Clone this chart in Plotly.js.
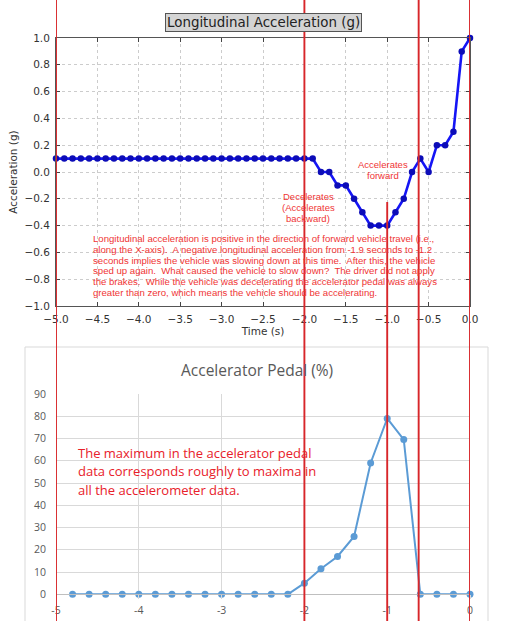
<!DOCTYPE html>
<html>
<head>
<meta charset="utf-8">
<script src="https://cdn.plot.ly/plotly-3.0.1.min.js"></script>
<style>html,body{margin:0;padding:0;background:#fff;}#chart{width:510px;height:621px;}</style>
</head>
<body>
<div id="chart"></div>
<script>
// ---- Data ----
const accelTime = [-5.0,-4.9,-4.8,-4.7,-4.6,-4.5,-4.4,-4.3,-4.2,-4.1,-4.0,-3.9,-3.8,-3.7,-3.6,-3.5,-3.4,-3.3,-3.2,-3.1,-3.0,-2.9,-2.8,-2.7,-2.6,-2.5,-2.4,-2.3,-2.2,-2.1,-2.0,-1.9,-1.8,-1.7,-1.6,-1.5,-1.4,-1.3,-1.2,-1.1,-1.0,-0.9,-0.8,-0.7,-0.6,-0.5,-0.4,-0.3,-0.2,-0.1,0.0];
const accelG = [0.1,0.1,0.1,0.1,0.1,0.1,0.1,0.1,0.1,0.1,0.1,0.1,0.1,0.1,0.1,0.1,0.1,0.1,0.1,0.1,0.1,0.1,0.1,0.1,0.1,0.1,0.1,0.1,0.1,0.1,0.1,0.1,0.0,0.0,-0.1,-0.1,-0.2,-0.3,-0.4,-0.4,-0.4,-0.3,-0.2,0.0,0.1,0.0,0.2,0.2,0.3,0.9,1.0];

const pedalTime = [-4.8,-4.6,-4.4,-4.2,-4.0,-3.8,-3.6,-3.4,-3.2,-3.0,-2.8,-2.6,-2.4,-2.2,-2.0,-1.8,-1.6,-1.4,-1.2,-1.0,-0.8,-0.6,-0.4,-0.2,0.0];
const pedalPct = [0,0,0,0,0,0,0,0,0,0,0,0,0,0,5,11.5,17,26,59,79,69.5,0,0,0,0];

const pedalTickVals = [-5,-4,-3,-2,-1,0];
const pedalTickText = ['-5','-4','-3','-2','-1','0'];

const markerTimesFull = [-5.0,-2.0,-0.62,0.0];   // red lines spanning whole picture
const markerTimesPartial = [-1.0];               // red line starting inside the top chart

const topTitle = 'Longitudinal Acceleration (g)';
const bottomTitle = 'Accelerator Pedal (%)';
const accelForwardLines = ['Accelerates', 'forward'];
const decelLines = ['Decelerates', '(Accelerates', 'backward)'];
const paragraphLines = [
  'Longitudinal acceleration is positive in the direction of forward vehicle travel (i.e.,',
  'along the X-axis).  A negative longitudinal acceleration from -1.9 seconds to -1.2',
  'seconds implies the vehicle was slowing down at this time.  After this, the vehicle',
  'sped up again.  What caused the vehicle to slow down?  The driver did not apply',
  'the brakes.  While the vehicle was decelerating the accelerator pedal was always',
  'greater than zero, which means the vehicle should be accelerating.'
];
const pedalNoteLines = [
  'The maximum in the accelerator pedal',
  'data corresponds roughly to maxima in',
  'all the accelerometer data.'
];

// ---- helpers: pixel -> paper ----
const W = 510, H = 621;
const px = v => v / W;
const py = v => 1 - v / H;

const redColor = '#d8262a';
const annRed = '#ef3535';

const traces = [
  {
    x: accelTime, y: accelG, xaxis: 'x', yaxis: 'y', type: 'scatter', mode: 'lines+markers',
    line: {color: '#1515f5', width: 2.6},
    marker: {color: '#0c0cb8', size: 6.5, line: {width: 0}},
    cliponaxis: false, hoverinfo: 'x+y'
  },
  {
    x: pedalTime, y: pedalPct, xaxis: 'x2', yaxis: 'y2', type: 'scatter', mode: 'lines+markers',
    line: {color: '#5b9bd5', width: 2},
    marker: {color: '#5b9bd5', size: 7},
    cliponaxis: false, hoverinfo: 'x+y'
  }
];

const dv = {family: 'DejaVu Sans', size: 10.5, color: '#333'};
const xl = {family: 'Open Sans', size: 10.5, color: '#595959'};

const shapes = [];
markerTimesFull.forEach(t => shapes.push({
  type: 'line', xref: 'x', yref: 'paper', x0: t, x1: t, y0: 0, y1: 1,
  line: {color: redColor, width: 1.9}, layer: 'above'
}));
markerTimesPartial.forEach(t => shapes.push({
  type: 'line', xref: 'x', yref: 'paper', x0: t, x1: t, y0: 0, y1: py(202),
  line: {color: redColor, width: 1.9}, layer: 'above'
}));
// Excel chart frame
shapes.push({type: 'rect', xref: 'paper', yref: 'paper', x0: px(25), x1: px(488), y0: -0.02, y1: py(347),
  line: {color: '#d9d9d9', width: 1}, fillcolor: 'rgba(0,0,0,0)', layer: 'below'});

const annotations = [
  {text: topTitle, xref: 'paper', yref: 'paper', x: px(263.5), y: py(22), xanchor: 'center', yanchor: 'middle', showarrow: false,
   font: {family: 'DejaVu Sans', size: 13.4, color: '#222'}, bgcolor: '#d4d4d4', bordercolor: '#555', borderwidth: 1, borderpad: 1},
  {text: bottomTitle, xref: 'paper', yref: 'paper', x: px(256.5), y: py(370), xanchor: 'center', yanchor: 'middle', showarrow: false,
   font: {family: 'Open Sans', size: 15.5, color: '#595959'}}
];
function addLines(lines, xPx, firstYPx, spacing, anchor, font) {
  lines.forEach((t, i) => annotations.push({
    text: t, xref: 'paper', yref: 'paper', x: px(xPx), y: py(firstYPx + i * spacing),
    xanchor: anchor, yanchor: 'middle', showarrow: false, font: font
  }));
}
addLines(accelForwardLines, 383, 164.7, 10.4, 'center', {family: 'Liberation Sans', size: 9.5, color: annRed});
addLines(decelLines, 308, 196.7, 10.8, 'center', {family: 'Liberation Sans', size: 9.5, color: annRed});
addLines(paragraphLines, 91, 238.6, 10.7, 'left', {family: 'Liberation Sans', size: 9.6, color: annRed});
addLines(pedalNoteLines, 76, 452.7, 18.5, 'left', {family: 'Open Sans', size: 13, color: '#e8202a'});

const layout = {
  width: W, height: H,
  margin: {l: 0, r: 0, t: 0, b: 0},
  paper_bgcolor: '#ffffff', plot_bgcolor: '#ffffff',
  showlegend: false,
  xaxis: {
    domain: [px(56), px(470)], range: [-5, 0], anchor: 'y',
    tick0: -5, dtick: 0.5, tickformat: '.1f', ticks: 'inside', ticklen: 4, tickcolor: '#444',
    showgrid: true, gridcolor: '#cccccc', griddash: 'dot', gridwidth: 1,
    showline: true, mirror: 'ticks', linecolor: '#555', linewidth: 1, zeroline: false,
    tickfont: dv, ticklabelstandoff: 3, automargin: false,
    title: {text: 'Time (s)', font: dv, standoff: 3}
  },
  yaxis: {
    domain: [py(306), py(38)], range: [-1, 1], anchor: 'x',
    tick0: -1, dtick: 0.2, tickformat: '.1f', ticks: 'inside', ticklen: 4, tickcolor: '#444',
    showgrid: true, gridcolor: '#cccccc', griddash: 'dot', gridwidth: 1,
    showline: true, mirror: 'ticks', linecolor: '#555', linewidth: 1, zeroline: false,
    tickfont: dv, ticklabelstandoff: 3, automargin: false,
    title: {text: 'Acceleration (g)', font: dv, standoff: 4}
  },
  xaxis2: {
    domain: [px(56), px(470)], range: [-5, 0], anchor: 'y2',
    tickvals: pedalTickVals, ticktext: pedalTickText, ticks: 'outside', ticklen: 4, tickcolor: '#d9d9d9',
    showgrid: true, gridcolor: '#d9d9d9', gridwidth: 1,
    showline: true, linecolor: '#bfbfbf', linewidth: 1, zeroline: false,
    tickfont: xl, ticklabelstandoff: 2, automargin: false
  },
  yaxis2: {
    domain: [py(594.3), py(394)], range: [0, 90], anchor: 'x2',
    tick0: 0, dtick: 10, ticks: '', showgrid: true, gridcolor: '#d9d9d9', gridwidth: 1,
    showline: false, zeroline: false, tickfont: xl, ticklabelstandoff: 9, automargin: false
  },
  shapes: shapes,
  annotations: annotations
};

Plotly.newPlot('chart', traces, layout, {displayModeBar: false, staticPlot: true});
</script>
</body>
</html>
